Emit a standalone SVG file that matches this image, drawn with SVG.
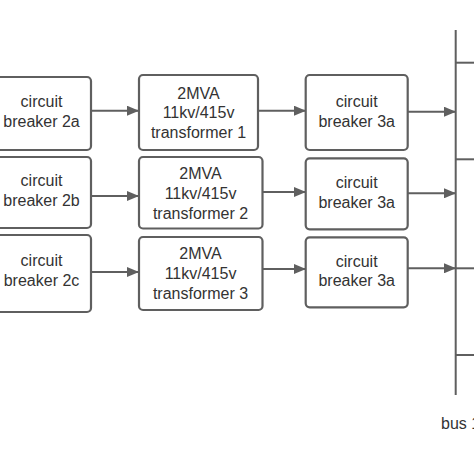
<svg xmlns="http://www.w3.org/2000/svg" width="474" height="474" viewBox="0 0 474 474">
<defs>
<style>
.box{fill:#fff;stroke:#5f5f5f;stroke-width:2.2}
.t{font-family:"Liberation Sans",Arial,sans-serif;font-size:16px;fill:#333;text-anchor:middle}
.c{stroke:#5f5f5f;stroke-width:2;fill:none}
</style>
<marker id="ah" markerWidth="12" markerHeight="10" refX="11" refY="5" orient="auto" markerUnits="userSpaceOnUse">
<path d="M0,0 L12,5 L0,10 Z" fill="#5f5f5f"/>
</marker>
</defs>
<rect width="474" height="474" fill="#fff"/>
<g id="connectors">
<line class="c" x1="91" y1="110.7" x2="138" y2="110.7" marker-end="url(#ah)"/>
<line class="c" x1="91" y1="196" x2="138" y2="196" marker-end="url(#ah)"/>
<line class="c" x1="91" y1="272" x2="138" y2="272" marker-end="url(#ah)"/>
<line class="c" x1="258" y1="110.7" x2="305" y2="110.7" marker-end="url(#ah)"/>
<line class="c" x1="262.5" y1="192" x2="305" y2="192" marker-end="url(#ah)"/>
<line class="c" x1="262.5" y1="269" x2="305" y2="269" marker-end="url(#ah)"/>
<line class="c" x1="408" y1="111.7" x2="455" y2="111.7" marker-end="url(#ah)"/>
<line class="c" x1="408" y1="193.3" x2="455" y2="193.3" marker-end="url(#ah)"/>
<line class="c" x1="408" y1="268.3" x2="455" y2="268.3" marker-end="url(#ah)"/>
</g>
<g id="bus1">
<line class="c" x1="455.7" y1="30" x2="455.7" y2="395"/>
<line class="c" x1="455.7" y1="62.7" x2="474" y2="62.7"/>
<line class="c" x1="455.7" y1="159.3" x2="474" y2="159.3"/>
<line class="c" x1="455.7" y1="268.3" x2="474" y2="268.3"/>
<line class="c" x1="455.7" y1="355" x2="474" y2="355"/>
<text x="441" y="429" font-family="Liberation Sans, Arial, sans-serif" font-size="16" fill="#333">bus 1</text>
</g>
<g id="cb2a"><rect class="box" x="-10" y="77" width="101" height="73" rx="4"/><text class="t" x="41.5" y="107">circuit</text><text class="t" x="41.5" y="127">breaker 2a</text></g>
<g id="cb2b"><rect class="box" x="-10" y="157" width="101" height="71" rx="4"/><text class="t" x="41.5" y="186">circuit</text><text class="t" x="41.5" y="206">breaker 2b</text></g>
<g id="cb2c"><rect class="box" x="-10" y="235" width="101" height="77" rx="4"/><text class="t" x="41.5" y="266">circuit</text><text class="t" x="41.5" y="286">breaker 2c</text></g>
<g id="tr1"><rect class="box" x="139" y="75" width="119" height="75" rx="4"/><text class="t" x="198.5" y="99">2MVA</text><text class="t" x="198.5" y="117.5">11kv/415v</text><text class="t" x="198.5" y="137.5">transformer 1</text></g>
<g id="tr2"><rect class="box" x="139" y="157" width="123.5" height="71.5" rx="4"/><text class="t" x="200.5" y="179">2MVA</text><text class="t" x="200.5" y="199">11kv/415v</text><text class="t" x="200.5" y="218.5">transformer 2</text></g>
<g id="tr3"><rect class="box" x="139" y="237" width="123.5" height="73" rx="4"/><text class="t" x="200.5" y="259">2MVA</text><text class="t" x="200.5" y="279">11kv/415v</text><text class="t" x="200.5" y="299">transformer 3</text></g>
<g id="cb3a1"><rect class="box" x="305.7" y="75" width="102" height="75" rx="4"/><text class="t" x="356.7" y="106.5">circuit</text><text class="t" x="356.7" y="126.5">breaker 3a</text></g>
<g id="cb3a2"><rect class="box" x="305.7" y="158.3" width="102" height="71" rx="4"/><text class="t" x="356.7" y="187.5">circuit</text><text class="t" x="356.7" y="207.5">breaker 3a</text></g>
<g id="cb3a3"><rect class="box" x="305.7" y="237.3" width="102" height="70" rx="4"/><text class="t" x="356.7" y="266.5">circuit</text><text class="t" x="356.7" y="286">breaker 3a</text></g>
</svg>
